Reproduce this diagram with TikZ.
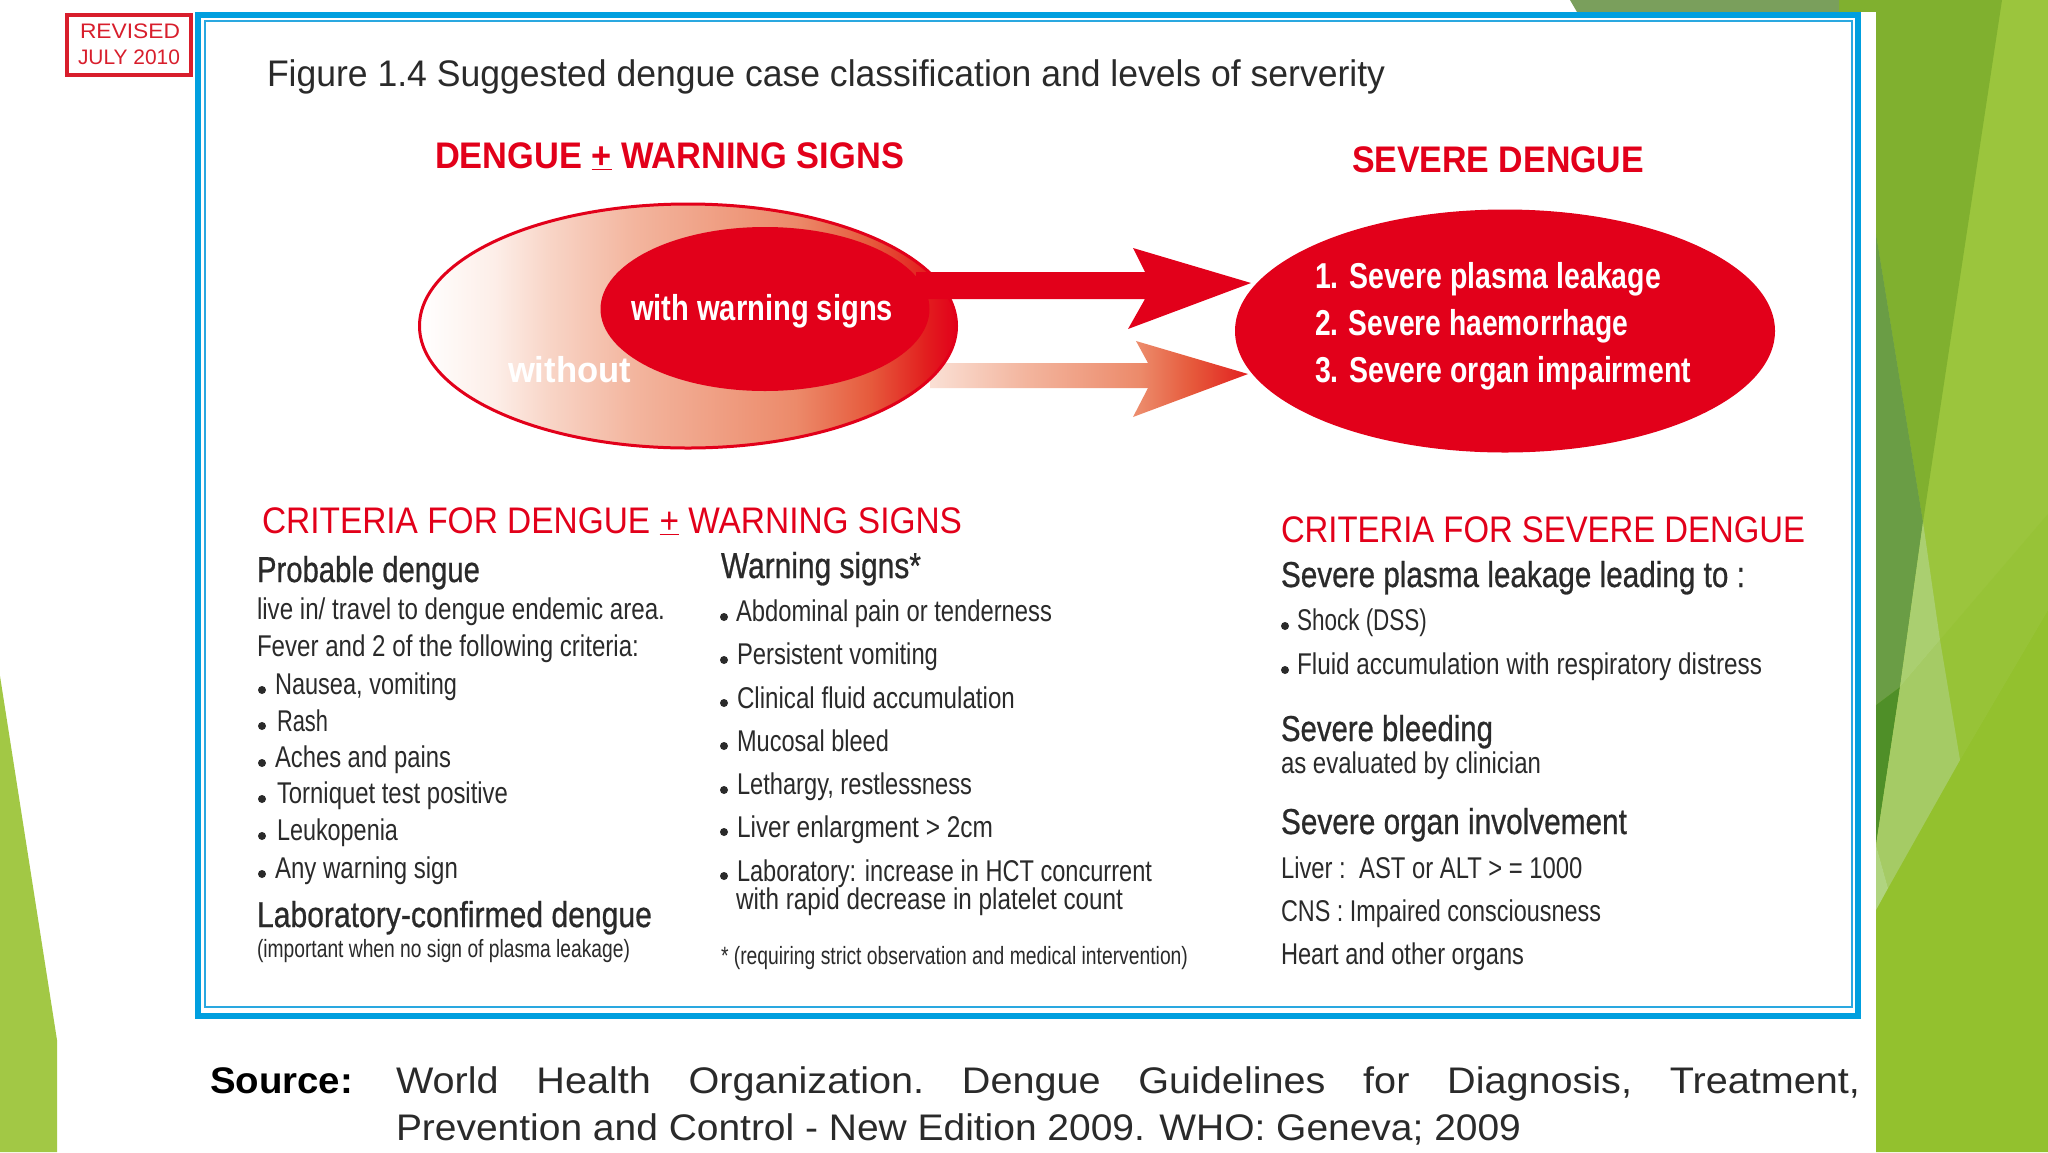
\documentclass[tikz,border=0pt]{standalone}
\usepackage{fontspec}
\usepackage{graphicx}
\usetikzlibrary{shapes.geometric}
\setmainfont{Liberation Sans}
\newfontfamily\semib[FakeBold=0.8]{Liberation Sans}
\definecolor{dred}{HTML}{E2001A}
\definecolor{boxred}{HTML}{D81E2C}
\definecolor{ink}{HTML}{2A2A2A}
\definecolor{fblue}{HTML}{009FDF}
\definecolor{fblue2}{HTML}{2AA8E0}
\definecolor{ga}{HTML}{FDEEE8}
\definecolor{gb}{HTML}{F8D5C7}
\definecolor{gc}{HTML}{F3B59E}
\definecolor{gd}{HTML}{EC8A6A}
\definecolor{ge}{HTML}{E65A3C}
\definecolor{gf}{HTML}{E2201F}
\definecolor{gs}{HTML}{FAE0D5}
\definecolor{facetA}{RGB}{122,159,92}
\definecolor{facetB}{RGB}{155,197,61}
\definecolor{facetC}{RGB}{128,176,47}
\definecolor{facetD}{RGB}{106,157,69}
\definecolor{facetE}{RGB}{79,143,40}
\definecolor{facetF}{RGB}{147,193,46}
\definecolor{facetG}{RGB}{151,195,55}
\definecolor{facetH}{RGB}{165,203,101}
\definecolor{facetI}{RGB}{170,207,112}
\definecolor{facetJ}{RGB}{176,212,128}
\definecolor{facetL}{RGB}{162,200,69}
\pgfdeclarehorizontalshading{ellgrad}{100bp}{color(0bp)=(white); color(25bp)=(white); color(32bp)=(ga); color(37bp)=(gb); color(45bp)=(gc); color(60bp)=(gd); color(67bp)=(ge); color(72bp)=(gf); color(75bp)=(dred); color(100bp)=(dred)}
\pgfdeclarehorizontalshading{arrgrad}{100bp}{color(0bp)=(gs); color(25bp)=(gs); color(40bp)=(gc); color(58bp)=(gd); color(66bp)=(ge); color(75bp)=(gf); color(100bp)=(gf)}
\newcounter{tc}
\newcommand\T[6]{\stepcounter{tc}\node[anchor=base west,inner sep=0pt,outer sep=0pt,text=#5] (t\thetc) at (#1,#2) {\resizebox{\dimexpr #3pt-#1pt\relax}{\height}{#4#6}};}
\newcommand\Bul[2]{\fill[ink] (#1,#2) circle (4);}
\newcommand\hd{\fontsize{36}{36}\selectfont\semib}
\newcommand\bd{\fontsize{30}{30}\selectfont}
\newcommand\sm{\fontsize{25}{25}\selectfont}
\newcommand\rb{\fontsize{37}{37}\selectfont\bfseries}
\newcommand\rr{\fontsize{37}{37}\selectfont}
\newcommand\wb{\fontsize{36}{36}\selectfont\bfseries}
\begin{document}
\begin{tikzpicture}[x=1pt,y=-1pt,line join=miter]
\useasboundingbox (0,0) rectangle (2048,1152);
\fill[white] (0,0) rectangle (2048,1152);
% background facets
\fill[facetA] (1570,0) -- (1839,0) -- (1839,12) -- (1577,12) -- cycle;
\fill[facetB] (1839,0) rectangle (2048,1152);
\fill[facetC] (1839,0) -- (2002,0) -- (1923,522) -- (1876,234) -- (1876,12) -- (1839,12) -- cycle;
\fill[facetD] (1876,234) -- (1923,522) -- (1900,687) -- (1876,705) -- cycle;
\fill[facetE] (1876,705) -- (1900,687) -- (1876,845) -- cycle;
\fill[facetF] (1876,910) -- (1960,760) -- (2048,610) -- (2048,1152) -- (1876,1152) -- cycle;
\fill[facetG] (1940,640) -- (2048,514) -- (2048,610) -- (1960,760) -- cycle;
\fill[facetH] (1940,640) -- (1960,760) -- (1888,888) -- (1876,845) -- (1900,687) -- cycle;
\fill[facetI] (1923,522) -- (1940,640) -- (1900,687) -- cycle;
\fill[facetJ] (1876,845) -- (1888,888) -- (1876,910) -- cycle;
\fill[white] (1839,12) rectangle (1876,1152);
\fill[facetL] (0,676) -- (57,1040) -- (57,1152) -- (0,1152) -- cycle;
% frame
\draw[fblue,line width=6pt,fill=white] (198,14.5) rectangle (1858,1015.5);
\draw[fblue2,line width=2pt] (204.5,21) rectangle (1852,1007);
% revised stamp
\draw[boxred,line width=4pt,fill=white] (67,15) rectangle (191,75);
\T{80}{38}{180}{\fontsize{21}{21}\selectfont}{boxred}{REVISED}
\T{78}{64}{180}{\fontsize{21}{21}\selectfont}{boxred}{JULY 2010}
% title
\T{267}{86}{1385}{\fontsize{37}{37}\selectfont}{ink}{Figure 1.4 Suggested dengue case classification and levels of serverity}
\T{435}{168}{904}{\rb}{dred}{DENGUE \underline{+} WARNING SIGNS}
\T{1352}{172}{1644}{\rb}{dred}{SEVERE DENGUE}
% arrow 2 behind outer ellipse
\shade[shading=arrgrad] (930,363) -- (1148,363) -- (1136,341) -- (1248,374) -- (1133,417) -- (1148,388) -- (930,388) -- cycle;
% ellipses
\node[ellipse,draw=dred,line width=3pt,shading=ellgrad,minimum width=537pt,minimum height=244pt,inner sep=0pt] (outer) at (688,326) {};
\node[ellipse,fill=dred,minimum width=329pt,minimum height=164pt,inner sep=0pt] (inner) at (765,309) {};
\node[ellipse,fill=dred,minimum width=540pt,minimum height=243pt,inner sep=0pt] (severe) at (1505,331) {};
% arrow 1
\fill[dred] (916,272) -- (1145,272) -- (1133,248) -- (1251,283) -- (1128,329) -- (1145,299) -- (916,299) -- cycle;
\T{631}{320}{893}{\wb}{white}{with warning signs}
\T{508}{382}{631}{\wb}{white}{without}
\T{1315}{288}{1661}{\wb}{white}{1. Severe plasma leakage}
\T{1315}{335}{1628}{\wb}{white}{2. Severe haemorrhage}
\T{1315}{382}{1691}{\wb}{white}{3. Severe organ impairment}
% left column
\T{262}{533}{962}{\rr}{dred}{CRITERIA FOR DENGUE \underline{+} WARNING SIGNS}
\T{257}{582}{480}{\hd}{ink}{Probable dengue}
\T{257}{619}{665}{\bd}{ink}{live in/ travel to dengue endemic area.}
\T{257}{656}{639}{\bd}{ink}{Fever and 2 of the following criteria:}
\Bul{262}{690}\T{275}{694}{457}{\bd}{ink}{Nausea, vomiting}
\Bul{262}{726}\T{277}{731}{328}{\bd}{ink}{Rash}
\Bul{262}{763}\T{275}{767}{451}{\bd}{ink}{Aches and pains}
\Bul{262}{799}\T{277}{803}{508}{\bd}{ink}{Torniquet test positive}
\Bul{262}{836}\T{277}{840}{398}{\bd}{ink}{Leukopenia}
\Bul{262}{874}\T{275}{878}{458}{\bd}{ink}{Any warning sign}
\T{257}{927}{652}{\hd}{ink}{Laboratory-confirmed dengue}
\T{257}{957}{630}{\sm}{ink}{(important when no sign of plasma leakage)}
% middle column
\T{721}{578}{921}{\hd}{ink}{Warning signs*}
\Bul{724}{617}\T{736}{621}{1052}{\bd}{ink}{Abdominal pain or tenderness}
\Bul{724}{660}\T{737}{664}{938}{\bd}{ink}{Persistent vomiting}
\Bul{724}{703}\T{737}{708}{1015}{\bd}{ink}{Clinical fluid accumulation}
\Bul{724}{746}\T{737}{751}{889}{\bd}{ink}{Mucosal bleed}
\Bul{724}{790}\T{737}{794}{972}{\bd}{ink}{Lethargy, restlessness}
\Bul{724}{832}\T{737}{837}{993}{\bd}{ink}{Liver enlargment > 2cm}
\Bul{724}{876}\T{737}{881}{1152}{\bd}{ink}{Laboratory: increase in HCT concurrent}
\T{736}{909}{1123}{\bd}{ink}{with rapid decrease in platelet count}
\T{721}{964}{1188}{\sm}{ink}{* (requiring strict observation and medical intervention)}
% right column
\T{1281}{542}{1805}{\rr}{dred}{CRITERIA FOR SEVERE DENGUE}
\T{1281}{587}{1745}{\hd}{ink}{Severe plasma leakage leading to :}
\Bul{1285}{626}\T{1297}{630}{1427}{\bd}{ink}{Shock (DSS)}
\Bul{1285}{670}\T{1297}{674}{1762}{\bd}{ink}{Fluid accumulation with respiratory distress}
\T{1281}{741}{1493}{\hd}{ink}{Severe bleeding}
\T{1281}{773}{1541}{\bd}{ink}{as evaluated by clinician}
\T{1281}{834}{1627}{\hd}{ink}{Severe organ involvement}
\T{1281}{878}{1582.5}{\bd}{ink}{Liver :\ \ AST or ALT > = 1000}
\T{1281}{921}{1601}{\bd}{ink}{CNS : Impaired consciousness}
\T{1281}{964}{1524}{\bd}{ink}{Heart and other organs}
% source
\T{210}{1093}{353}{\fontsize{37}{37}\selectfont\bfseries}{black}{Source:}
\T{396}{1093}{1860}{\fontsize{37}{37}\selectfont}{ink}{\makebox[1368pt][s]{World\hfill Health\hfill Organization.\hfill Dengue\hfill Guidelines\hfill for\hfill Diagnosis,\hfill Treatment,}}
\T{396}{1140}{1521}{\fontsize{37}{37}\selectfont}{ink}{Prevention and Control - New Edition 2009. WHO: Geneva; 2009}
\end{tikzpicture}
\end{document}
